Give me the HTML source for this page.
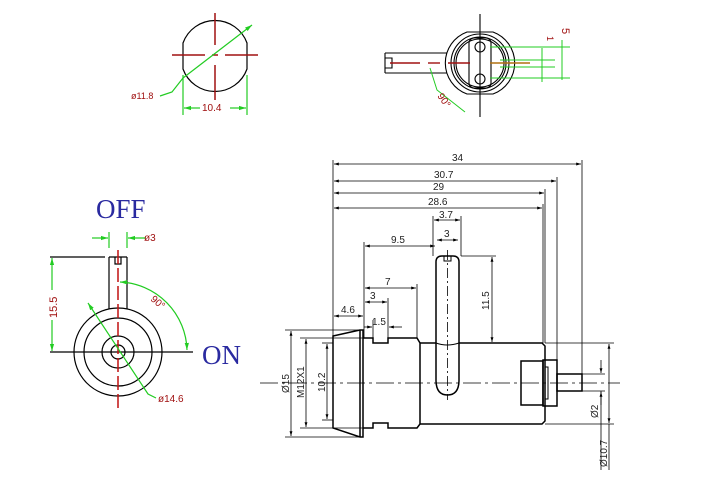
<!DOCTYPE html>
<html><head><meta charset="utf-8"><style>
body{margin:0;background:#fff;}
svg{display:block;font-family:"Liberation Sans",sans-serif;}
</style></head><body>
<svg width="713" height="501" viewBox="0 0 713 501" xmlns="http://www.w3.org/2000/svg">
<defs>
<marker id="a" viewBox="0 0 10 10" refX="10" refY="5" markerWidth="6" markerHeight="6" orient="auto-start-reverse"><path d="M0,2 L10,5 L0,8z" fill="#000"/></marker>
<marker id="g" viewBox="0 0 10 10" refX="10" refY="5" markerWidth="6" markerHeight="6" orient="auto-start-reverse"><path d="M0,2 L10,5 L0,8z" fill="#2c2"/></marker>
</defs>
<!-- Top-left figure -->
<g fill="none" stroke="#000" stroke-width="1.2">
<path d="M183,43 A34,34 0 0 1 247,43 L247,69 A34,34 0 0 1 183,69 Z"/>
</g>
<g stroke="#a01010" stroke-width="1.5">
<line x1="172" y1="55" x2="205" y2="55"/><line x1="225" y1="55" x2="258" y2="55"/>
<line x1="215" y1="13" x2="215" y2="45"/><line x1="215" y1="65" x2="215" y2="100"/>
<line x1="212" y1="55" x2="218" y2="55"/>
</g>
<g stroke="#2c2" stroke-width="1.2" fill="none">
<line x1="183" y1="78" x2="252" y2="25" marker-end="url(#g)"/>
<path d="M183,78 L172,92 L160,96"/>
<line x1="183" y1="75" x2="183" y2="115"/><line x1="247" y1="75" x2="247" y2="115"/>
<line x1="184" y1="108" x2="200" y2="108" marker-start="url(#g)"/><line x1="230" y1="108" x2="246" y2="108" marker-end="url(#g)"/>
</g>
<text x="131" y="99" font-size="9" fill="#a01010">ø11.8</text>
<text x="202" y="111" font-size="10" fill="#a01010">10.4</text>
<!-- Top-right figure -->
<g fill="none" stroke="#000" stroke-width="1.1">
<path d="M467,32 L493,32 A33,33 0 0 1 493,94 L467,94 A33,33 0 0 1 467,32Z"/>
<circle cx="480" cy="63" r="29"/><circle cx="480" cy="63" r="26"/><circle cx="480" cy="63" r="24"/>
<rect x="469" y="38" width="22" height="50" rx="5"/>
<circle cx="480" cy="47" r="5"/><circle cx="480" cy="79" r="5"/>
<path d="M385,53 L447,53 M385,73 L447,73 M385,53 L385,73 M385,58 L392,58 L392,68 L385,68"/>
<line x1="480" y1="14" x2="480" y2="117"/>
</g>
<g stroke="#a01010" stroke-width="1.4"><line x1="390" y1="63" x2="420" y2="63"/><line x1="428" y1="63" x2="440" y2="63"/><line x1="448" y1="63" x2="470" y2="63"/><line x1="490" y1="63" x2="530" y2="63" stroke="#b07010"/></g>
<g stroke="#2c2" stroke-width="1" fill="none">
<line x1="490" y1="47" x2="570" y2="47"/><line x1="500" y1="60" x2="555" y2="60"/><line x1="500" y1="67" x2="555" y2="67"/><line x1="490" y1="78" x2="570" y2="78"/>
<line x1="542" y1="48" x2="542" y2="82"/><line x1="562" y1="40" x2="562" y2="80"/>
<path d="M430,68 L437,90 L465,112"/>
</g>
<text x="547" y="36" font-size="9" fill="#a01010" transform="rotate(90 547 36)">1</text>
<text x="562" y="28" font-size="11" fill="#a01010" transform="rotate(90 562 28)">5</text>
<text x="437" y="96" font-size="10" fill="#a01010" transform="rotate(55 437 96)">90°</text>
<!-- Left figure -->
<text x="96" y="218" font-family="Liberation Serif,serif" font-size="27" fill="#2a2aa0">OFF</text>
<text x="202" y="364" font-family="Liberation Serif,serif" font-size="27" fill="#2a2aa0">ON</text>
<g fill="none" stroke="#000" stroke-width="1.2">
<circle cx="118" cy="352" r="44"/><circle cx="118" cy="352" r="34"/>
<circle cx="118" cy="352" r="16"/><circle cx="118" cy="352" r="7"/>
<path d="M109,257 L109,309 M127,257 L127,309 M109,257 L127,257 M115,257 L115,264 L121,264 L121,257"/>
<line x1="50" y1="257" x2="105" y2="257"/>
<line x1="50" y1="352" x2="193" y2="352"/>
</g>
<line x1="118" y1="250" x2="118" y2="412" stroke="#c01010" stroke-width="1.5" stroke-dasharray="14,4"/>
<g stroke="#2c2" stroke-width="1.2" fill="none">
<line x1="52" y1="258" x2="52" y2="290" marker-start="url(#g)"/><line x1="52" y1="320" x2="52" y2="351" marker-end="url(#g)"/>
<line x1="109" y1="232" x2="109" y2="248"/><line x1="127" y1="232" x2="127" y2="248"/>
<line x1="92" y1="238" x2="108" y2="238" marker-end="url(#g)"/><line x1="146" y1="238" x2="128" y2="238" marker-end="url(#g)"/>
<path d="M120,282 A70,70 0 0 1 187,350" marker-start="url(#g)" marker-end="url(#g)"/>
<path d="M88,303 L148,394 L156,398" marker-start="url(#g)"/>
</g>
<text x="144" y="241" font-size="10" fill="#a01010">ø3</text>
<text x="158" y="402" font-size="10" fill="#a01010">ø14.6</text>
<text x="150" y="300" font-size="10" fill="#a01010" transform="rotate(40 150 300)">90°</text>
<text x="57" y="318" font-size="11" fill="#a01010" transform="rotate(-90 57 318)">15.5</text>
<!-- Right figure -->
<g fill="none" stroke="#000" stroke-width="0.8">
<line x1="333" y1="160" x2="333" y2="336"/><line x1="582" y1="160" x2="582" y2="374"/>
<line x1="557" y1="177" x2="557" y2="360"/><line x1="545" y1="189" x2="545" y2="343"/><line x1="543" y1="204" x2="543" y2="343"/>
<line x1="334" y1="164" x2="581" y2="164" marker-start="url(#a)" marker-end="url(#a)"/>
<line x1="334" y1="181" x2="556" y2="181" marker-start="url(#a)" marker-end="url(#a)"/>
<line x1="334" y1="193" x2="544" y2="193" marker-start="url(#a)" marker-end="url(#a)"/>
<line x1="334" y1="208" x2="542" y2="208" marker-start="url(#a)" marker-end="url(#a)"/>
<line x1="433" y1="216" x2="433" y2="256"/><line x1="461" y1="216" x2="461" y2="256"/>
<line x1="434" y1="220" x2="460" y2="220" marker-start="url(#a)" marker-end="url(#a)"/>
<line x1="437" y1="240" x2="458" y2="240" marker-start="url(#a)" marker-end="url(#a)"/>
<line x1="364" y1="242" x2="364" y2="338"/>
<line x1="365" y1="246" x2="435" y2="246" marker-start="url(#a)" marker-end="url(#a)"/>
<line x1="417" y1="284" x2="417" y2="338"/>
<line x1="365" y1="288" x2="416" y2="288" marker-start="url(#a)" marker-end="url(#a)"/>
<line x1="388" y1="298" x2="388" y2="338"/><line x1="373" y1="320" x2="373" y2="338"/>
<line x1="365" y1="302" x2="387" y2="302" marker-start="url(#a)" marker-end="url(#a)"/>
<line x1="334" y1="316" x2="363" y2="316" marker-start="url(#a)" marker-end="url(#a)"/>
<line x1="364" y1="327" x2="372" y2="327" marker-end="url(#a)"/><line x1="402" y1="327" x2="389" y2="327" marker-end="url(#a)"/>
<line x1="461" y1="256" x2="496" y2="256"/>
<line x1="492" y1="257" x2="492" y2="342" marker-start="url(#a)" marker-end="url(#a)"/>
<line x1="285" y1="330" x2="360" y2="330"/><line x1="285" y1="437" x2="360" y2="437"/>
<line x1="291" y1="331" x2="291" y2="436" marker-start="url(#a)" marker-end="url(#a)"/>
<line x1="300" y1="338" x2="364" y2="338"/><line x1="300" y1="428" x2="364" y2="428"/>
<line x1="306" y1="339" x2="306" y2="427" marker-start="url(#a)" marker-end="url(#a)"/>
<line x1="322" y1="343" x2="333" y2="343"/><line x1="322" y1="420" x2="333" y2="420"/>
<line x1="327" y1="344" x2="327" y2="419" marker-start="url(#a)" marker-end="url(#a)"/>
<line x1="545" y1="343" x2="614" y2="343"/><line x1="545" y1="424" x2="614" y2="424"/>
<line x1="609" y1="344" x2="609" y2="423" marker-start="url(#a)" marker-end="url(#a)"/>
<line x1="582" y1="374" x2="605" y2="374"/><line x1="582" y1="391" x2="605" y2="391"/>
<line x1="601" y1="360" x2="601" y2="373" marker-end="url(#a)"/><line x1="601" y1="405" x2="601" y2="392" marker-end="url(#a)"/>
<line x1="601" y1="391" x2="601" y2="470"/><line x1="609" y1="424" x2="609" y2="470"/>
</g>
<g fill="none" stroke="#000" stroke-width="1.5">
<path d="M333,336 L360,330 L363,330 L363,437 L360,437 L333,428 Z"/><line x1="360" y1="330" x2="360" y2="437"/>
<path d="M363,338 L373,338 L373,343 L388,343 L388,338 L417,338 L420,343 L420,424 L417,428 L388,428 L388,423 L373,423 L373,428 L363,428"/>
<path d="M420,343 L436,343 M459,343 L542,343 L545,346 L545,421 L542,424 L420,424"/>
<path d="M436,262 Q436,256 442,256 L453,256 Q459,256 459,262 L459,380 Q459,395 447.5,395 Q436,395 436,380 Z"/>
<path d="M436,343 Q447,347 459,343" stroke-width="1"/>
<path d="M444,256 L444,261 L451,261 L451,256" stroke-width="1"/>
<rect x="521" y="361" width="22" height="44"/>
<rect x="543" y="360" width="14" height="46"/><rect x="545" y="367" width="3" height="32" stroke-width="1"/>
<rect x="557" y="374" width="25" height="17"/>
</g>
<line x1="260" y1="383" x2="620" y2="383" stroke="#000" stroke-width="0.8" stroke-dasharray="18,4,3,4"/>
<line x1="447.5" y1="250" x2="447.5" y2="400" stroke="#000" stroke-width="0.8" stroke-dasharray="10,3,2,3"/>
<g font-size="10" fill="#222">
<text x="452" y="161">34</text><text x="434" y="178">30.7</text><text x="433" y="190">29</text><text x="428" y="205">28.6</text>
<text x="439" y="218">3.7</text><text x="444" y="237">3</text><text x="391" y="243">9.5</text><text x="385" y="285">7</text>
<text x="370" y="299">3</text><text x="341" y="313">4.6</text><text x="372" y="325">1.5</text>
<text x="489" y="310" transform="rotate(-90 489 310)">11.5</text>
<text x="289" y="393" transform="rotate(-90 289 393)">Ø15</text>
<text x="304" y="398" transform="rotate(-90 304 398)">M12X1</text>
<text x="325" y="392" transform="rotate(-90 325 392)">10.2</text>
<text x="598" y="418" transform="rotate(-90 598 418)">Ø2</text>
<text x="607" y="467" transform="rotate(-90 607 467)">Ø10.7</text>
</g>
</svg>
</body></html>
